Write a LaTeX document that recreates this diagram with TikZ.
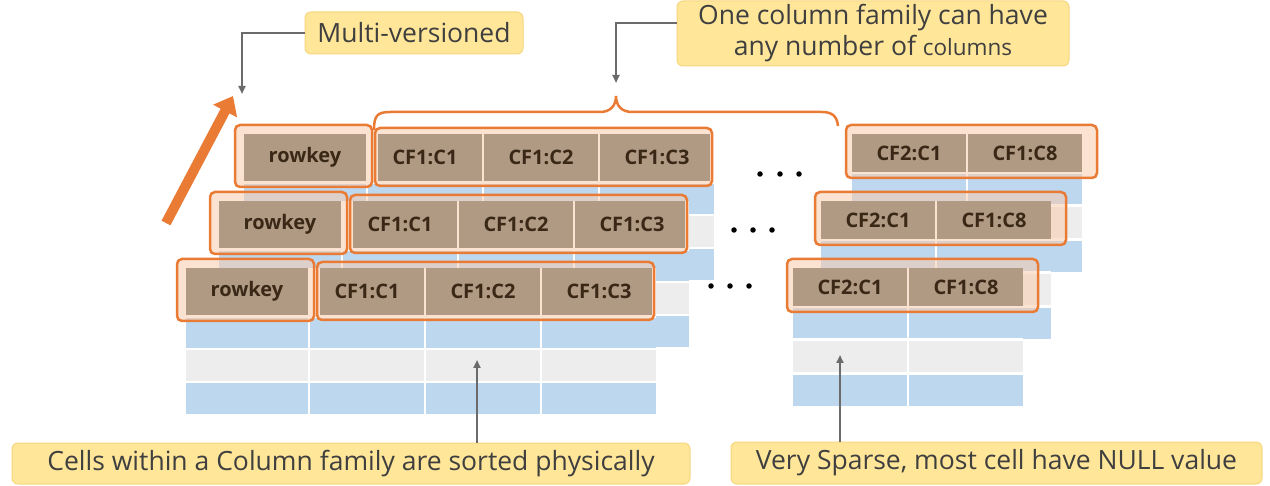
\documentclass[tikz,border=0pt]{standalone}
\usepackage{fontspec}
\setmainfont{Open Sans}
\usetikzlibrary{arrows.meta}
\definecolor{cbrown}{HTML}{B09A84}
\definecolor{ctext}{HTML}{3A2716}
\definecolor{cblue}{HTML}{BDD7EE}
\definecolor{cgray}{HTML}{EDEDED}
\definecolor{corange}{HTML}{E97B35}
\definecolor{cpeach}{HTML}{F8CBAD}
\definecolor{cyellow}{HTML}{FFE699}
\definecolor{cyborder}{HTML}{F7D67E}
\definecolor{cconn}{HTML}{6B6B6B}
\definecolor{clabel}{HTML}{3F3F3F}
\tikzset{
  peachfill/.style={fill=cpeach, fill opacity=0.55, rounded corners=5pt},
  obox/.style={draw=corange, line width=2.5pt, rounded corners=5pt},
  celltxt/.style={font=\fontsize{20}{22}\selectfont\bfseries, text=ctext, inner sep=0pt},
  ylabel/.style={draw=cyborder, fill=cyellow, line width=1pt, rounded corners=6pt,
    font=\fontsize{26.5}{31}\selectfont, text=clabel, inner sep=0pt, align=center},
  conn/.style={draw=cconn, line width=2pt, -{Triangle[length=8pt,width=7pt]}},
  dotnode/.style={circle, fill=black, inner sep=0pt, minimum size=5.5pt},
  bigarrow/.style={draw=corange, line width=10pt, -{Triangle[length=17pt,width=26pt]}},
  bracestyle/.style={draw=corange, line width=2.5pt}
}
\newcommand\LeftLayer[3]{%
\begin{scope}[shift={(#1,#2)}]
  \fill[white] (0,0) rectangle (470,146);
  \foreach \ya/\yb/\cl in {50/80/cblue, 82/113/cgray, 115/146/cblue}{
    \foreach \xa/\xb in {0/122,124/238,240/354,356/470}{
      \fill[\cl] (\xa,\ya) rectangle (\xb,\yb);
    }}
  \fill[peachfill] (-9,-9) rectangle (128,53);
  \fill[peachfill] (131,-6) rectangle (468,52);
  \fill[cbrown] (0,0) rectangle (122,47);
  \fill[cbrown] (134,0) rectangle (238,47);
  \fill[cbrown] (240,0) rectangle (354,47);
  \fill[cbrown] (356,0) rectangle (466,47);
  \node[celltxt] (#3rk) at (61,23.5) {rowkey};
  \node[celltxt] (#3c1) at (181,23.5) {CF1:C1};
  \node[celltxt] (#3c2) at (297,23.5) {CF1:C2};
  \node[celltxt] (#3c3) at (413,23.5) {CF1:C3};
  \draw[obox] (-9,-9) rectangle (128,53);
  \draw[obox] (131,-6) rectangle (468,52);
\end{scope}}
\newcommand\RightLayer[3]{%
\begin{scope}[shift={(#1,#2)}]
  \fill[white] (0,0) rectangle (230,138);
  \foreach \ya/\yb/\cl in {40/70/cblue, 73/104/cgray, 107/138/cblue}{
    \foreach \xa/\xb in {0/114,116/230}{
      \fill[\cl] (\xa,\ya) rectangle (\xb,\yb);
    }}
  \fill[peachfill] (-6,-9) rectangle (245,44);
  \fill[cbrown] (0,0) rectangle (114,38);
  \fill[cbrown] (116,0) rectangle (230,38);
  \node[celltxt] (#3a) at (57,19) {CF2:C1};
  \node[celltxt] (#3b) at (173,19) {CF1:C8};
  \draw[obox] (-6,-9) rectangle (245,44);
\end{scope}}
\begin{document}
\begin{tikzpicture}[x=1pt,y=-1pt]
\useasboundingbox (0,0) rectangle (1270,486);
\fill[white] (0,0) rectangle (1270,486);

% brace
\draw[bracestyle] (374,130) .. controls (374,116) and (377,112) .. (390,112)
  -- (600,112) .. controls (610,112) and (616,106) .. (616,96)
  .. controls (616,106) and (622,112) .. (632,112)
  -- (822,112) .. controls (832,112) and (837,116) .. (838,126);

% layers
\LeftLayer{244}{134}{B}
\RightLayer{852}{134}{BR}
\LeftLayer{219}{201}{M}
\RightLayer{821}{201}{MR}
\LeftLayer{186}{268}{F}
\RightLayer{793}{268}{FR}

% dots
\foreach \i/\x/\y in {1/760/174, 2/780/174, 3/799/174,
                      4/734/230, 5/753/230, 6/772/230,
                      7/711/286, 8/730/286, 9/749/286}{
  \node[dotnode] (dot\i) at (\x,\y) {};
}

% orange arrow
\coordinate (oa1) at (166,223);
\coordinate (oa2) at (233,96);
\draw[bigarrow] (oa1) -- (oa2);

% labels
\node[ylabel, minimum width=218pt, minimum height=42pt] (mv) at (414,33) {Multi-versioned};
\node[ylabel, minimum width=392pt, minimum height=65pt] (oc) at (873,33.5)
  {One column family can have\\any number of {\fontsize{22.5}{26}\selectfont columns}};
\node[ylabel, minimum width=678pt, minimum height=41pt] (cells) at (351,463.5)
  {Cells within a Column family are sorted physically};
\node[ylabel, minimum width=531pt, minimum height=42pt] (sparse) at (996.5,463)
  {Very Sparse, most cell have NULL value};

% connectors
\coordinate (mvtip) at (242,94);
\coordinate (octip) at (616,83);
\coordinate (celltip) at (477,360);
\coordinate (sptip) at (840,355);
\draw[conn] (mv.west) -| (mvtip);
\draw[conn] ([yshift=10.5pt]oc.west) -| (octip);
\draw[conn] (celltip |- cells.north) -- (celltip);
\draw[conn] (sptip |- sparse.north) -- (sptip);
\end{tikzpicture}
\end{document}
